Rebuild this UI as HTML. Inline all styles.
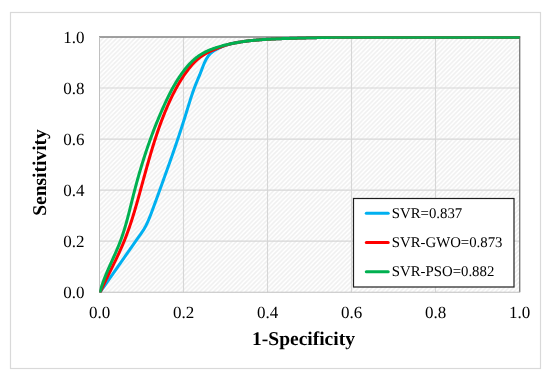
<!DOCTYPE html>
<html><head><meta charset="utf-8"><style>
html,body{margin:0;padding:0;background:#fff;}
svg{display:block;filter:blur(0.3px);}
text{font-family:"Liberation Serif","Times New Roman",serif;fill:#000;text-rendering:geometricPrecision;}
</style></head><body>
<svg width="550" height="376" viewBox="0 0 550 376">
<defs>
<pattern id="hatch" patternUnits="userSpaceOnUse" width="4.55" height="4.55" patternTransform="translate(0.3 0)">
<path d="M-1.1375 1.1375 L1.1375 -1.1375 M0 4.55 L4.55 0 M3.4125 5.6875 L5.6875 3.4125" stroke="#efefef" stroke-width="1.5"/>
</pattern>
<clipPath id="pc"><rect x="99.3" y="36.3" width="420.5" height="256.1"/></clipPath>
</defs>
<rect x="0" y="0" width="550" height="376" fill="#fff"/>
<rect x="10.5" y="12.5" width="530" height="356" fill="#fff" stroke="#d9d9d9" stroke-width="1.2"/>
<rect x="99.5" y="37" width="420" height="255.2" fill="url(#hatch)"/>
<g stroke="#d6d6d6" stroke-width="1.1"><line x1="183.50" y1="37" x2="183.50" y2="292.2" /><line x1="267.50" y1="37" x2="267.50" y2="292.2" /><line x1="351.50" y1="37" x2="351.50" y2="292.2" /><line x1="435.50" y1="37" x2="435.50" y2="292.2" /><line x1="99.5" y1="241.16" x2="519.5" y2="241.16" /><line x1="99.5" y1="190.12" x2="519.5" y2="190.12" /><line x1="99.5" y1="139.08" x2="519.5" y2="139.08" /><line x1="99.5" y1="88.04" x2="519.5" y2="88.04" /></g>
<g stroke="#808080" stroke-width="1.4"><line x1="99" y1="37" x2="520.2" y2="37"/><line x1="519.7" y1="36.3" x2="519.7" y2="292.2"/></g>
<g stroke="#c0c0c0" stroke-width="1.05"><line x1="99.5" y1="37" x2="99.5" y2="292.2"/><line x1="99" y1="292.2" x2="520" y2="292.2"/></g>
<g fill="none" stroke-width="3" stroke-linejoin="round" stroke-linecap="round" clip-path="url(#pc)">
<path d="M100.00 292.30 L100.41 291.71 L100.83 291.12 L101.24 290.52 L101.65 289.93 L102.07 289.34 L102.48 288.74 L102.89 288.15 L103.31 287.56 L103.72 286.97 L104.13 286.37 L104.55 285.78 L104.96 285.19 L105.37 284.60 L105.79 284.00 L106.20 283.41 L106.61 282.82 L107.03 282.23 L107.44 281.63 L107.85 281.04 L108.27 280.45 L108.68 279.86 L109.10 279.26 L109.51 278.67 L109.92 278.08 L110.34 277.49 L110.75 276.90 L111.16 276.30 L111.58 275.71 L111.99 275.12 L112.41 274.53 L112.82 273.93 L113.23 273.34 L113.65 272.75 L114.06 272.16 L114.47 271.56 L114.89 270.97 L115.30 270.38 L115.72 269.79 L116.13 269.19 L116.54 268.60 L116.96 268.01 L117.37 267.42 L117.78 266.83 L118.20 266.23 L118.61 265.64 L119.03 265.05 L119.44 264.46 L119.85 263.86 L120.27 263.27 L120.68 262.68 L121.09 262.09 L121.51 261.49 L121.92 260.90 L122.33 260.31 L122.75 259.72 L123.16 259.12 L123.57 258.53 L123.99 257.94 L124.40 257.35 L124.81 256.75 L125.23 256.16 L125.64 255.57 L126.05 254.98 L126.47 254.38 L126.88 253.79 L127.29 253.20 L127.71 252.61 L128.12 252.01 L128.53 251.42 L128.95 250.83 L129.36 250.23 L129.77 249.64 L130.18 249.05 L130.60 248.46 L131.01 247.86 L131.42 247.27 L131.84 246.68 L132.25 246.08 L132.66 245.49 L133.07 244.90 L133.49 244.31 L133.90 243.71 L134.31 243.12 L134.73 242.53 L135.14 241.94 L135.56 241.34 L135.97 240.75 L136.38 240.16 L136.80 239.57 L137.22 238.98 L137.63 238.39 L138.05 237.80 L138.47 237.21 L138.88 236.62 L139.30 236.03 L139.72 235.44 L140.14 234.85 L140.56 234.26 L140.97 233.67 L141.39 233.07 L141.80 232.48 L142.20 231.88 L142.60 231.28 L143.00 230.68 L143.39 230.07 L143.77 229.46 L144.15 228.85 L144.51 228.23 L144.87 227.61 L145.22 226.98 L145.56 226.34 L145.89 225.71 L146.22 225.07 L146.54 224.42 L146.85 223.77 L147.16 223.12 L147.46 222.47 L147.76 221.81 L148.05 221.15 L148.34 220.49 L148.62 219.82 L148.90 219.16 L149.17 218.49 L149.45 217.82 L149.72 217.15 L149.98 216.47 L150.25 215.80 L150.51 215.13 L150.77 214.45 L151.03 213.77 L151.29 213.10 L151.55 212.42 L151.80 211.74 L152.05 211.06 L152.31 210.39 L152.56 209.71 L152.82 209.03 L153.07 208.35 L153.32 207.67 L153.57 207.00 L153.82 206.32 L154.07 205.64 L154.32 204.96 L154.57 204.29 L154.82 203.61 L155.07 202.93 L155.32 202.25 L155.57 201.58 L155.82 200.90 L156.07 200.22 L156.32 199.54 L156.56 198.87 L156.81 198.19 L157.06 197.51 L157.30 196.83 L157.55 196.16 L157.80 195.48 L158.04 194.80 L158.29 194.12 L158.54 193.45 L158.78 192.77 L159.03 192.09 L159.27 191.41 L159.52 190.74 L159.76 190.06 L160.01 189.38 L160.25 188.70 L160.50 188.02 L160.74 187.35 L160.99 186.67 L161.23 185.99 L161.48 185.31 L161.72 184.63 L161.97 183.95 L162.21 183.28 L162.46 182.60 L162.70 181.92 L162.95 181.24 L163.19 180.56 L163.44 179.88 L163.68 179.20 L163.93 178.52 L164.17 177.84 L164.42 177.16 L164.66 176.48 L164.91 175.80 L165.15 175.12 L165.40 174.44 L165.64 173.76 L165.89 173.08 L166.13 172.40 L166.38 171.72 L166.62 171.04 L166.87 170.36 L167.11 169.68 L167.36 169.00 L167.60 168.32 L167.84 167.64 L168.09 166.96 L168.33 166.28 L168.57 165.60 L168.82 164.92 L169.06 164.24 L169.30 163.56 L169.55 162.88 L169.79 162.20 L170.03 161.52 L170.27 160.84 L170.51 160.16 L170.75 159.48 L170.99 158.79 L171.23 158.11 L171.47 157.43 L171.71 156.75 L171.95 156.07 L172.19 155.39 L172.43 154.71 L172.67 154.03 L172.90 153.35 L173.14 152.67 L173.38 151.98 L173.61 151.30 L173.85 150.62 L174.09 149.94 L174.32 149.26 L174.56 148.58 L174.79 147.90 L175.03 147.21 L175.26 146.53 L175.49 145.85 L175.73 145.17 L175.96 144.49 L176.19 143.80 L176.42 143.12 L176.66 142.44 L176.89 141.76 L177.12 141.07 L177.35 140.39 L177.58 139.71 L177.81 139.02 L178.04 138.34 L178.27 137.66 L178.50 136.97 L178.73 136.29 L178.95 135.61 L179.18 134.92 L179.41 134.24 L179.63 133.55 L179.86 132.87 L180.09 132.18 L180.31 131.50 L180.54 130.81 L180.76 130.13 L180.99 129.44 L181.21 128.76 L181.43 128.07 L181.65 127.39 L181.88 126.70 L182.10 126.01 L182.32 125.33 L182.54 124.64 L182.76 123.95 L182.98 123.27 L183.20 122.58 L183.42 121.89 L183.64 121.20 L183.86 120.52 L184.08 119.83 L184.29 119.14 L184.51 118.45 L184.73 117.76 L184.94 117.07 L185.16 116.38 L185.37 115.69 L185.59 115.00 L185.80 114.31 L186.01 113.62 L186.23 112.93 L186.44 112.24 L186.65 111.55 L186.86 110.86 L187.08 110.17 L187.29 109.47 L187.50 108.78 L187.71 108.09 L187.93 107.40 L188.14 106.71 L188.35 106.02 L188.56 105.33 L188.78 104.64 L188.99 103.95 L189.21 103.26 L189.42 102.57 L189.64 101.88 L189.86 101.19 L190.08 100.50 L190.30 99.81 L190.52 99.12 L190.74 98.44 L190.96 97.75 L191.19 97.06 L191.41 96.38 L191.64 95.70 L191.87 95.01 L192.10 94.33 L192.33 93.65 L192.56 92.97 L192.80 92.29 L193.04 91.61 L193.28 90.93 L193.52 90.25 L193.76 89.58 L194.01 88.90 L194.26 88.23 L194.51 87.56 L194.77 86.89 L195.02 86.22 L195.28 85.55 L195.54 84.88 L195.81 84.22 L196.08 83.55 L196.35 82.89 L196.62 82.23 L196.89 81.57 L197.17 80.91 L197.45 80.25 L197.72 79.58 L198.00 78.92 L198.28 78.26 L198.56 77.60 L198.84 76.94 L199.12 76.27 L199.39 75.60 L199.67 74.94 L199.94 74.26 L200.21 73.59 L200.48 72.91 L200.74 72.24 L201.01 71.55 L201.27 70.87 L201.52 70.18 L201.78 69.50 L202.04 68.81 L202.30 68.12 L202.56 67.43 L202.83 66.75 L203.09 66.06 L203.36 65.38 L203.64 64.70 L203.92 64.03 L204.21 63.36 L204.50 62.69 L204.81 62.03 L205.12 61.38 L205.44 60.73 L205.77 60.09 L206.12 59.46 L206.47 58.84 L206.84 58.22 L207.22 57.62 L207.61 57.03 L208.02 56.44 L208.45 55.87 L208.89 55.32 L209.34 54.77 L209.81 54.24 L210.30 53.73 L210.81 53.23 L211.33 52.75 L211.87 52.29 L212.42 51.84 L213.00 51.42 L213.59 51.01 L214.20 50.63 L214.82 50.27 L215.46 49.92 L216.11 49.58 L216.76 49.25 L217.42 48.92 L218.08 48.59 L218.73 48.27 L219.40 47.95 L220.06 47.63 L220.72 47.32 L221.39 47.02 L222.06 46.73 L222.73 46.45 L223.40 46.18 L224.08 45.91 L224.75 45.66 L225.43 45.41 L226.11 45.18 L226.79 44.96 L227.47 44.74 L228.15 44.54 L228.84 44.34 L229.53 44.16 L230.21 43.98 L230.90 43.81 L231.60 43.64 L232.29 43.49 L232.98 43.34 L233.68 43.19 L234.37 43.05 L235.07 42.92 L235.77 42.79 L236.47 42.66 L237.17 42.54 L237.88 42.42 L238.43 42.32 L239.39 42.17 L240.34 42.01 L241.30 41.87 L242.26 41.72 L243.23 41.58 L244.19 41.45 L245.15 41.32 L246.12 41.19 L247.08 41.07 L248.05 40.95 L249.01 40.84 L249.98 40.73 L250.95 40.62 L251.92 40.52 L252.89 40.42 L253.86 40.32 L254.83 40.23 L255.80 40.14 L256.77 40.05 L257.74 39.97 L258.72 39.89 L259.69 39.81 L260.66 39.74 L261.64 39.67 L262.61 39.60 L263.59 39.53 L264.56 39.47 L265.54 39.41 L266.51 39.35 L267.49 39.29 L268.47 39.23 L269.45 39.18 L270.42 39.13 L271.40 39.08 L272.38 39.03 L273.35 38.98 L274.33 38.94 L275.31 38.89 L276.29 38.85 L277.27 38.81 L278.24 38.77 L279.22 38.73 L280.20 38.69 L281.18 38.66 L282.16 38.62 L283.14 38.59 L284.11 38.55 L285.09 38.52 L286.07 38.48 L287.05 38.45 L288.02 38.42 L289.00 38.38 L289.98 38.35 L290.95 38.32 L291.93 38.29 L292.91 38.26 L293.88 38.23 L294.86 38.20 L295.84 38.17 L296.81 38.14 L297.79 38.11 L298.76 38.08 L299.74 38.05 L300.72 38.02 L301.69 38.00 L302.67 37.97 L303.64 37.94 L304.62 37.92 L305.59 37.89 L306.57 37.87 L307.54 37.84 L308.52 37.82 L309.49 37.79 L310.46 37.77 L311.44 37.75 L312.41 37.72 L313.39 37.70 L314.36 37.68 L315.33 37.66 L316.31 37.64 L317.28 37.62 L318.26 37.60 L319.23 37.58 L320.20 37.56 L321.18 37.54 L322.15 37.52 L323.12 37.50 L324.09 37.48 L325.07 37.46 L326.04 37.44 L327.01 37.43 L327.99 37.41 L328.96 37.39 L329.93 37.38 L330.90 37.36 L331.87 37.35 L332.85 37.33 L333.82 37.31 L334.79 37.30 L335.76 37.29 L336.73 37.27 L337.71 37.26 L338.68 37.24 L339.65 37.23 L340.62 37.22 L341.59 37.21 L342.56 37.19 L343.54 37.18 L344.51 37.17 L345.48 37.16 L346.45 37.15 L347.42 37.15 L348.39 37.15 L349.36 37.15 L350.33 37.15 L351.30 37.15 L352.27 37.15 L353.25 37.15 L354.22 37.15 L355.19 37.15 L356.16 37.15 L357.13 37.15 L358.10 37.15 L359.07 37.15 L360.04 37.15 L361.01 37.15 L361.98 37.15 L362.95 37.15 L363.92 37.15 L364.89 37.15 L365.86 37.15 L366.83 37.15 L367.80 37.15 L368.77 37.15 L369.74 37.15 L370.71 37.15 L371.68 37.15 L372.65 37.15 L373.62 37.15 L374.59 37.15 L375.56 37.15 L376.53 37.15 L377.50 37.15 L378.47 37.15 L379.44 37.15 L380.41 37.15 L381.38 37.15 L382.35 37.15 L383.32 37.15 L384.29 37.15 L385.26 37.15 L386.23 37.15 L387.20 37.15 L388.17 37.15 L389.14 37.15 L390.10 37.15 L391.07 37.15 L392.04 37.15 L393.01 37.15 L393.98 37.15 L394.95 37.15 L395.92 37.15 L396.89 37.15 L397.86 37.15 L398.83 37.15 L399.80 37.15 L400.77 37.15 L401.74 37.15 L402.71 37.15 L403.68 37.15 L404.65 37.15 L405.62 37.15 L406.59 37.15 L407.56 37.15 L408.53 37.15 L409.50 37.15 L410.47 37.15 L411.44 37.15 L412.41 37.15 L413.38 37.15 L414.35 37.15 L415.32 37.15 L416.29 37.15 L417.26 37.15 L418.23 37.15 L419.20 37.15 L420.17 37.15 L421.14 37.15 L422.11 37.15 L423.08 37.15 L424.05 37.15 L425.02 37.15 L425.99 37.15 L426.96 37.15 L427.93 37.15 L428.90 37.15 L429.87 37.15 L430.84 37.15 L431.81 37.15 L432.78 37.15 L433.75 37.15 L434.72 37.15 L435.69 37.15 L436.66 37.15 L437.63 37.15 L438.60 37.15 L439.58 37.15 L440.55 37.15 L441.52 37.15 L442.49 37.15 L443.46 37.15 L444.43 37.15 L445.40 37.15 L446.37 37.15 L447.34 37.15 L448.32 37.15 L449.29 37.15 L450.26 37.15 L451.23 37.15 L452.20 37.15 L453.18 37.15 L454.15 37.15 L455.12 37.15 L456.09 37.15 L457.06 37.15 L458.04 37.15 L459.01 37.15 L459.98 37.15 L460.95 37.15 L461.93 37.15 L462.90 37.15 L463.87 37.15 L464.84 37.15 L465.82 37.15 L466.79 37.15 L467.76 37.15 L468.74 37.15 L469.71 37.15 L470.68 37.15 L471.66 37.15 L472.63 37.15 L473.61 37.15 L474.58 37.15 L475.55 37.15 L476.53 37.15 L477.50 37.15 L478.48 37.15 L479.45 37.15 L480.43 37.15 L481.40 37.15 L482.38 37.15 L483.35 37.15 L484.33 37.15 L485.30 37.15 L486.28 37.15 L487.25 37.15 L488.23 37.15 L489.20 37.15 L490.18 37.15 L491.15 37.15 L492.13 37.15 L493.11 37.15 L494.08 37.15 L495.06 37.15 L496.04 37.15 L497.01 37.15 L497.99 37.15 L498.97 37.15 L499.94 37.15 L500.92 37.15 L501.90 37.15 L502.88 37.15 L503.85 37.15 L504.83 37.15 L505.81 37.15 L506.79 37.15 L507.77 37.15 L508.74 37.15 L509.72 37.15 L510.70 37.15 L511.68 37.15 L512.66 37.15 L513.64 37.15 L514.62 37.15 L515.60 37.15 L516.58 37.15 L517.56 37.15 L518.54 37.15 L519.52 37.15" stroke="#00b0f0"/>
<path d="M100.16 292.37 L100.55 291.48 L100.95 290.60 L101.34 289.72 L101.75 288.84 L102.15 287.97 L102.55 287.09 L102.96 286.21 L103.37 285.34 L103.78 284.46 L104.20 283.59 L104.61 282.71 L105.03 281.84 L105.45 280.97 L105.87 280.09 L106.29 279.22 L106.71 278.35 L107.14 277.48 L107.56 276.60 L107.99 275.73 L108.42 274.86 L108.84 273.99 L109.27 273.12 L109.70 272.25 L110.13 271.38 L110.56 270.50 L110.98 269.63 L111.41 268.76 L111.84 267.89 L112.27 267.02 L112.70 266.15 L113.12 265.27 L113.55 264.40 L113.98 263.53 L114.40 262.65 L114.82 261.78 L115.25 260.91 L115.67 260.03 L116.09 259.16 L116.51 258.28 L116.92 257.40 L117.34 256.53 L117.75 255.65 L118.17 254.77 L118.58 253.89 L118.98 253.01 L119.39 252.13 L119.79 251.24 L120.19 250.36 L120.59 249.48 L120.98 248.59 L121.38 247.70 L121.77 246.82 L122.15 245.93 L122.54 245.04 L122.91 244.15 L123.29 243.25 L123.66 242.36 L124.03 241.46 L124.40 240.57 L124.76 239.67 L125.12 238.77 L125.47 237.87 L125.82 236.97 L126.17 236.06 L126.51 235.16 L126.86 234.25 L127.19 233.34 L127.53 232.44 L127.86 231.53 L128.19 230.61 L128.51 229.70 L128.83 228.79 L129.15 227.88 L129.47 226.96 L129.78 226.05 L130.10 225.13 L130.40 224.21 L130.71 223.29 L131.01 222.37 L131.31 221.45 L131.61 220.53 L131.91 219.61 L132.20 218.68 L132.50 217.76 L132.79 216.84 L133.07 215.91 L133.36 214.98 L133.64 214.06 L133.93 213.13 L134.21 212.20 L134.49 211.27 L134.76 210.34 L135.04 209.42 L135.31 208.49 L135.59 207.55 L135.86 206.62 L136.13 205.69 L136.40 204.76 L136.66 203.83 L136.93 202.90 L137.20 201.96 L137.46 201.03 L137.72 200.10 L137.99 199.16 L138.25 198.23 L138.51 197.29 L138.77 196.36 L139.03 195.43 L139.29 194.49 L139.55 193.56 L139.81 192.62 L140.06 191.69 L140.32 190.75 L140.58 189.82 L140.84 188.88 L141.09 187.95 L141.35 187.01 L141.61 186.08 L141.86 185.14 L142.12 184.21 L142.37 183.27 L142.63 182.34 L142.89 181.40 L143.14 180.47 L143.40 179.53 L143.65 178.60 L143.91 177.67 L144.17 176.73 L144.42 175.80 L144.68 174.86 L144.94 173.93 L145.20 173.00 L145.45 172.06 L145.71 171.13 L145.97 170.20 L146.23 169.26 L146.49 168.33 L146.75 167.40 L147.01 166.46 L147.28 165.53 L147.54 164.60 L147.80 163.67 L148.07 162.74 L148.33 161.81 L148.60 160.88 L148.86 159.95 L149.13 159.02 L149.40 158.09 L149.67 157.16 L149.94 156.23 L150.21 155.30 L150.48 154.37 L150.76 153.44 L151.03 152.52 L151.31 151.59 L151.59 150.66 L151.87 149.74 L152.15 148.81 L152.43 147.89 L152.71 146.96 L152.99 146.04 L153.28 145.11 L153.57 144.19 L153.86 143.27 L154.15 142.34 L154.44 141.42 L154.73 140.50 L155.03 139.58 L155.33 138.66 L155.63 137.74 L155.93 136.82 L156.23 135.91 L156.54 134.99 L156.84 134.07 L157.15 133.15 L157.46 132.24 L157.78 131.32 L158.09 130.41 L158.41 129.50 L158.73 128.58 L159.05 127.67 L159.37 126.76 L159.70 125.85 L160.03 124.94 L160.36 124.03 L160.69 123.12 L161.03 122.21 L161.37 121.31 L161.71 120.40 L162.05 119.50 L162.40 118.59 L162.74 117.69 L163.10 116.79 L163.45 115.88 L163.81 114.98 L164.17 114.08 L164.53 113.18 L164.89 112.29 L165.26 111.39 L165.63 110.49 L166.01 109.60 L166.38 108.70 L166.76 107.81 L167.15 106.91 L167.53 106.02 L167.92 105.13 L168.32 104.24 L168.71 103.35 L169.11 102.47 L169.51 101.58 L169.92 100.70 L170.33 99.81 L170.74 98.93 L171.16 98.05 L171.58 97.17 L172.00 96.30 L172.43 95.42 L172.87 94.55 L173.30 93.68 L173.74 92.81 L174.19 91.94 L174.64 91.08 L175.09 90.22 L175.55 89.36 L176.01 88.50 L176.48 87.65 L176.95 86.80 L177.42 85.95 L177.90 85.10 L178.39 84.26 L178.88 83.42 L179.37 82.59 L179.87 81.75 L180.38 80.92 L180.89 80.10 L181.40 79.28 L181.92 78.46 L182.45 77.64 L182.98 76.83 L183.52 76.03 L184.06 75.22 L184.61 74.43 L185.16 73.63 L185.72 72.84 L186.28 72.06 L186.86 71.27 L187.43 70.50 L188.02 69.73 L188.61 68.96 L189.20 68.20 L189.81 67.45 L190.42 66.71 L191.04 65.98 L191.67 65.25 L192.31 64.53 L192.96 63.82 L193.61 63.13 L194.28 62.44 L194.95 61.76 L195.64 61.10 L196.34 60.45 L197.04 59.81 L197.76 59.18 L198.49 58.57 L199.24 57.97 L199.99 57.39 L200.76 56.82 L201.53 56.27 L202.32 55.73 L203.13 55.21 L203.94 54.70 L204.76 54.21 L205.59 53.72 L206.43 53.25 L207.28 52.80 L208.14 52.35 L209.00 51.92 L209.88 51.50 L210.76 51.09 L211.64 50.70 L212.53 50.31 L213.43 49.93 L214.33 49.56 L215.23 49.19 L216.14 48.82 L217.05 48.45 L217.97 48.09 L218.88 47.72 L219.80 47.37 L220.72 47.01 L221.64 46.67 L222.56 46.34 L223.49 46.01 L224.41 45.70 L225.34 45.39 L226.27 45.10 L227.20 44.82 L228.13 44.55 L229.07 44.29 L230.00 44.05 L230.94 43.81 L231.88 43.59 L232.82 43.38 L233.76 43.18 L234.70 42.99 L235.64 42.81 L236.51 42.65 L237.47 42.48 L238.43 42.32 L239.39 42.17 L240.34 42.01 L241.30 41.87 L242.26 41.72 L243.23 41.58 L244.19 41.45 L245.15 41.32 L246.12 41.19 L247.08 41.07 L248.05 40.95 L249.01 40.84 L249.98 40.73 L250.95 40.62 L251.92 40.52 L252.89 40.42 L253.86 40.32 L254.83 40.23 L255.80 40.14 L256.77 40.05 L257.74 39.97 L258.72 39.89 L259.69 39.81 L260.66 39.74 L261.64 39.67 L262.61 39.60 L263.59 39.53 L264.56 39.47 L265.54 39.41 L266.51 39.35 L267.49 39.29 L268.47 39.23 L269.45 39.18 L270.42 39.13 L271.40 39.08 L272.38 39.03 L273.35 38.98 L274.33 38.94 L275.31 38.89 L276.29 38.85 L277.27 38.81 L278.24 38.77 L279.22 38.73 L280.20 38.69 L281.18 38.66 L282.16 38.62 L283.14 38.59 L284.11 38.55 L285.09 38.52 L286.07 38.48 L287.05 38.45 L288.02 38.42 L289.00 38.38 L289.98 38.35 L290.95 38.32 L291.93 38.29 L292.91 38.26 L293.88 38.23 L294.86 38.20 L295.84 38.17 L296.81 38.14 L297.79 38.11 L298.76 38.08 L299.74 38.05 L300.72 38.02 L301.69 38.00 L302.67 37.97 L303.64 37.94 L304.62 37.92 L305.59 37.89 L306.57 37.87 L307.54 37.84 L308.52 37.82 L309.49 37.79 L310.46 37.77 L311.44 37.75 L312.41 37.72 L313.39 37.70 L314.36 37.68 L315.33 37.66 L316.31 37.64 L317.28 37.62 L318.26 37.60 L319.23 37.58 L320.20 37.56 L321.18 37.54 L322.15 37.52 L323.12 37.50 L324.09 37.48 L325.07 37.46 L326.04 37.44 L327.01 37.43 L327.99 37.41 L328.96 37.39 L329.93 37.38 L330.90 37.36 L331.87 37.35 L332.85 37.33 L333.82 37.31 L334.79 37.30 L335.76 37.29 L336.73 37.27 L337.71 37.26 L338.68 37.24 L339.65 37.23 L340.62 37.22 L341.59 37.21 L342.56 37.19 L343.54 37.18 L344.51 37.17 L345.48 37.16 L346.45 37.15 L347.42 37.15 L348.39 37.15 L349.36 37.15 L350.33 37.15 L351.30 37.15 L352.27 37.15 L353.25 37.15 L354.22 37.15 L355.19 37.15 L356.16 37.15 L357.13 37.15 L358.10 37.15 L359.07 37.15 L360.04 37.15 L361.01 37.15 L361.98 37.15 L362.95 37.15 L363.92 37.15 L364.89 37.15 L365.86 37.15 L366.83 37.15 L367.80 37.15 L368.77 37.15 L369.74 37.15 L370.71 37.15 L371.68 37.15 L372.65 37.15 L373.62 37.15 L374.59 37.15 L375.56 37.15 L376.53 37.15 L377.50 37.15 L378.47 37.15 L379.44 37.15 L380.41 37.15 L381.38 37.15 L382.35 37.15 L383.32 37.15 L384.29 37.15 L385.26 37.15 L386.23 37.15 L387.20 37.15 L388.17 37.15 L389.14 37.15 L390.10 37.15 L391.07 37.15 L392.04 37.15 L393.01 37.15 L393.98 37.15 L394.95 37.15 L395.92 37.15 L396.89 37.15 L397.86 37.15 L398.83 37.15 L399.80 37.15 L400.77 37.15 L401.74 37.15 L402.71 37.15 L403.68 37.15 L404.65 37.15 L405.62 37.15 L406.59 37.15 L407.56 37.15 L408.53 37.15 L409.50 37.15 L410.47 37.15 L411.44 37.15 L412.41 37.15 L413.38 37.15 L414.35 37.15 L415.32 37.15 L416.29 37.15 L417.26 37.15 L418.23 37.15 L419.20 37.15 L420.17 37.15 L421.14 37.15 L422.11 37.15 L423.08 37.15 L424.05 37.15 L425.02 37.15 L425.99 37.15 L426.96 37.15 L427.93 37.15 L428.90 37.15 L429.87 37.15 L430.84 37.15 L431.81 37.15 L432.78 37.15 L433.75 37.15 L434.72 37.15 L435.69 37.15 L436.66 37.15 L437.63 37.15 L438.60 37.15 L439.58 37.15 L440.55 37.15 L441.52 37.15 L442.49 37.15 L443.46 37.15 L444.43 37.15 L445.40 37.15 L446.37 37.15 L447.34 37.15 L448.32 37.15 L449.29 37.15 L450.26 37.15 L451.23 37.15 L452.20 37.15 L453.18 37.15 L454.15 37.15 L455.12 37.15 L456.09 37.15 L457.06 37.15 L458.04 37.15 L459.01 37.15 L459.98 37.15 L460.95 37.15 L461.93 37.15 L462.90 37.15 L463.87 37.15 L464.84 37.15 L465.82 37.15 L466.79 37.15 L467.76 37.15 L468.74 37.15 L469.71 37.15 L470.68 37.15 L471.66 37.15 L472.63 37.15 L473.61 37.15 L474.58 37.15 L475.55 37.15 L476.53 37.15 L477.50 37.15 L478.48 37.15 L479.45 37.15 L480.43 37.15 L481.40 37.15 L482.38 37.15 L483.35 37.15 L484.33 37.15 L485.30 37.15 L486.28 37.15 L487.25 37.15 L488.23 37.15 L489.20 37.15 L490.18 37.15 L491.15 37.15 L492.13 37.15 L493.11 37.15 L494.08 37.15 L495.06 37.15 L496.04 37.15 L497.01 37.15 L497.99 37.15 L498.97 37.15 L499.94 37.15 L500.92 37.15 L501.90 37.15 L502.88 37.15 L503.85 37.15 L504.83 37.15 L505.81 37.15 L506.79 37.15 L507.77 37.15 L508.74 37.15 L509.72 37.15 L510.70 37.15 L511.68 37.15 L512.66 37.15 L513.64 37.15 L514.62 37.15 L515.60 37.15 L516.58 37.15 L517.56 37.15 L518.54 37.15 L519.52 37.15" stroke="#ff0000"/>
<path d="M99.98 292.29 L100.22 291.35 L100.48 290.40 L100.74 289.46 L101.01 288.53 L101.29 287.60 L101.57 286.67 L101.87 285.74 L102.17 284.81 L102.48 283.89 L102.79 282.97 L103.11 282.05 L103.44 281.14 L103.77 280.23 L104.11 279.32 L104.46 278.41 L104.81 277.50 L105.16 276.60 L105.52 275.69 L105.89 274.79 L106.26 273.89 L106.63 273.00 L107.01 272.10 L107.39 271.20 L107.77 270.31 L108.16 269.42 L108.54 268.52 L108.93 267.63 L109.33 266.74 L109.72 265.85 L110.12 264.96 L110.52 264.07 L110.92 263.19 L111.32 262.30 L111.72 261.41 L112.12 260.52 L112.52 259.63 L112.92 258.75 L113.32 257.86 L113.72 256.97 L114.12 256.08 L114.52 255.19 L114.91 254.30 L115.31 253.41 L115.70 252.52 L116.09 251.63 L116.48 250.74 L116.86 249.85 L117.24 248.95 L117.62 248.06 L118.00 247.16 L118.37 246.26 L118.74 245.36 L119.10 244.46 L119.46 243.56 L119.81 242.65 L120.16 241.75 L120.50 240.84 L120.84 239.93 L121.18 239.01 L121.50 238.10 L121.83 237.18 L122.14 236.27 L122.46 235.35 L122.77 234.43 L123.07 233.50 L123.37 232.58 L123.67 231.65 L123.96 230.73 L124.25 229.80 L124.54 228.87 L124.82 227.94 L125.10 227.01 L125.37 226.07 L125.64 225.14 L125.91 224.20 L126.18 223.27 L126.44 222.33 L126.70 221.39 L126.96 220.45 L127.21 219.51 L127.47 218.57 L127.72 217.63 L127.97 216.68 L128.21 215.74 L128.46 214.80 L128.70 213.85 L128.94 212.91 L129.19 211.96 L129.43 211.02 L129.66 210.07 L129.90 209.12 L130.14 208.18 L130.38 207.23 L130.61 206.28 L130.85 205.34 L131.08 204.39 L131.32 203.44 L131.55 202.50 L131.79 201.55 L132.02 200.60 L132.26 199.66 L132.50 198.71 L132.73 197.77 L132.97 196.82 L133.21 195.88 L133.45 194.93 L133.69 193.99 L133.93 193.04 L134.18 192.10 L134.42 191.16 L134.67 190.22 L134.91 189.28 L135.16 188.33 L135.41 187.39 L135.66 186.45 L135.91 185.52 L136.17 184.58 L136.42 183.64 L136.68 182.70 L136.93 181.76 L137.19 180.83 L137.45 179.89 L137.71 178.96 L137.98 178.02 L138.24 177.09 L138.51 176.15 L138.77 175.22 L139.04 174.29 L139.31 173.35 L139.58 172.42 L139.85 171.49 L140.13 170.56 L140.40 169.63 L140.68 168.70 L140.96 167.77 L141.24 166.84 L141.52 165.91 L141.80 164.99 L142.09 164.06 L142.37 163.13 L142.66 162.21 L142.95 161.28 L143.24 160.36 L143.53 159.43 L143.82 158.51 L144.12 157.58 L144.42 156.66 L144.71 155.74 L145.01 154.82 L145.32 153.90 L145.62 152.98 L145.92 152.06 L146.23 151.14 L146.54 150.22 L146.85 149.30 L147.16 148.38 L147.47 147.47 L147.79 146.55 L148.11 145.63 L148.42 144.72 L148.74 143.80 L149.07 142.89 L149.39 141.97 L149.72 141.06 L150.04 140.15 L150.37 139.24 L150.70 138.32 L151.04 137.41 L151.37 136.50 L151.71 135.59 L152.04 134.68 L152.38 133.77 L152.73 132.87 L153.07 131.96 L153.42 131.05 L153.76 130.14 L154.11 129.24 L154.46 128.33 L154.82 127.43 L155.17 126.52 L155.53 125.62 L155.89 124.72 L156.25 123.81 L156.61 122.91 L156.98 122.01 L157.35 121.11 L157.72 120.21 L158.09 119.31 L158.46 118.41 L158.84 117.51 L159.21 116.61 L159.59 115.72 L159.97 114.82 L160.36 113.92 L160.74 113.03 L161.13 112.13 L161.52 111.24 L161.91 110.34 L162.31 109.45 L162.70 108.56 L163.10 107.67 L163.50 106.77 L163.91 105.88 L164.31 104.99 L164.72 104.10 L165.13 103.21 L165.54 102.33 L165.96 101.44 L166.37 100.55 L166.79 99.67 L167.22 98.78 L167.64 97.90 L168.07 97.02 L168.50 96.14 L168.94 95.26 L169.38 94.39 L169.82 93.51 L170.27 92.64 L170.72 91.77 L171.17 90.90 L171.63 90.04 L172.09 89.17 L172.56 88.31 L173.03 87.46 L173.51 86.60 L173.99 85.75 L174.48 84.90 L174.97 84.06 L175.46 83.21 L175.96 82.38 L176.47 81.54 L176.98 80.71 L177.50 79.88 L178.02 79.06 L178.55 78.24 L179.08 77.42 L179.62 76.61 L180.17 75.80 L180.72 75.00 L181.28 74.20 L181.84 73.41 L182.42 72.62 L183.00 71.83 L183.58 71.05 L184.17 70.28 L184.77 69.51 L185.38 68.75 L185.99 68.00 L186.62 67.25 L187.25 66.51 L187.88 65.78 L188.53 65.06 L189.18 64.34 L189.85 63.64 L190.52 62.94 L191.19 62.26 L191.88 61.58 L192.58 60.92 L193.28 60.27 L194.00 59.63 L194.72 59.00 L195.46 58.38 L196.20 57.78 L196.95 57.19 L197.72 56.62 L198.49 56.05 L199.27 55.51 L200.07 54.98 L200.87 54.46 L201.68 53.96 L202.51 53.47 L203.34 53.00 L204.19 52.55 L205.04 52.11 L205.90 51.68 L206.77 51.27 L207.65 50.87 L208.53 50.48 L209.42 50.10 L210.32 49.73 L211.22 49.38 L212.13 49.04 L213.04 48.70 L213.95 48.38 L214.87 48.06 L215.80 47.75 L216.72 47.45 L217.65 47.16 L218.58 46.88 L219.51 46.60 L220.45 46.33 L221.38 46.07 L222.32 45.81 L223.25 45.56 L224.19 45.31 L225.13 45.07 L226.08 44.84 L227.02 44.61 L227.96 44.39 L228.91 44.17 L229.85 43.97 L230.80 43.76 L231.75 43.56 L232.70 43.37 L233.65 43.18 L234.61 43.00 L235.56 42.82 L236.51 42.65 L237.47 42.48 L238.43 42.32 L239.39 42.17 L240.34 42.01 L241.30 41.87 L242.26 41.72 L243.23 41.58 L244.19 41.45 L245.15 41.32 L246.12 41.19 L247.08 41.07 L248.05 40.95 L249.01 40.84 L249.98 40.73 L250.95 40.62 L251.92 40.52 L252.89 40.42 L253.86 40.32 L254.83 40.23 L255.80 40.14 L256.77 40.05 L257.74 39.97 L258.72 39.89 L259.69 39.81 L260.66 39.74 L261.64 39.67 L262.61 39.60 L263.59 39.53 L264.56 39.47 L265.54 39.41 L266.51 39.35 L267.49 39.29 L268.47 39.23 L269.45 39.18 L270.42 39.13 L271.40 39.08 L272.38 39.03 L273.35 38.98 L274.33 38.94 L275.31 38.89 L276.29 38.85 L277.27 38.81 L278.24 38.77 L279.22 38.73 L280.20 38.69 L281.18 38.66 L282.16 38.62 L283.14 38.59 L284.11 38.55 L285.09 38.52 L286.07 38.48 L287.05 38.45 L288.02 38.42 L289.00 38.38 L289.98 38.35 L290.95 38.32 L291.93 38.29 L292.91 38.26 L293.88 38.23 L294.86 38.20 L295.84 38.17 L296.81 38.14 L297.79 38.11 L298.76 38.08 L299.74 38.05 L300.72 38.02 L301.69 38.00 L302.67 37.97 L303.64 37.94 L304.62 37.92 L305.59 37.89 L306.57 37.87 L307.54 37.84 L308.52 37.82 L309.49 37.79 L310.46 37.77 L311.44 37.75 L312.41 37.72 L313.39 37.70 L314.36 37.68 L315.33 37.66 L316.31 37.64 L317.28 37.62 L318.26 37.60 L319.23 37.58 L320.20 37.56 L321.18 37.54 L322.15 37.52 L323.12 37.50 L324.09 37.48 L325.07 37.46 L326.04 37.44 L327.01 37.43 L327.99 37.41 L328.96 37.39 L329.93 37.38 L330.90 37.36 L331.87 37.35 L332.85 37.33 L333.82 37.31 L334.79 37.30 L335.76 37.29 L336.73 37.27 L337.71 37.26 L338.68 37.24 L339.65 37.23 L340.62 37.22 L341.59 37.21 L342.56 37.19 L343.54 37.18 L344.51 37.17 L345.48 37.16 L346.45 37.15 L347.42 37.15 L348.39 37.15 L349.36 37.15 L350.33 37.15 L351.30 37.15 L352.27 37.15 L353.25 37.15 L354.22 37.15 L355.19 37.15 L356.16 37.15 L357.13 37.15 L358.10 37.15 L359.07 37.15 L360.04 37.15 L361.01 37.15 L361.98 37.15 L362.95 37.15 L363.92 37.15 L364.89 37.15 L365.86 37.15 L366.83 37.15 L367.80 37.15 L368.77 37.15 L369.74 37.15 L370.71 37.15 L371.68 37.15 L372.65 37.15 L373.62 37.15 L374.59 37.15 L375.56 37.15 L376.53 37.15 L377.50 37.15 L378.47 37.15 L379.44 37.15 L380.41 37.15 L381.38 37.15 L382.35 37.15 L383.32 37.15 L384.29 37.15 L385.26 37.15 L386.23 37.15 L387.20 37.15 L388.17 37.15 L389.14 37.15 L390.10 37.15 L391.07 37.15 L392.04 37.15 L393.01 37.15 L393.98 37.15 L394.95 37.15 L395.92 37.15 L396.89 37.15 L397.86 37.15 L398.83 37.15 L399.80 37.15 L400.77 37.15 L401.74 37.15 L402.71 37.15 L403.68 37.15 L404.65 37.15 L405.62 37.15 L406.59 37.15 L407.56 37.15 L408.53 37.15 L409.50 37.15 L410.47 37.15 L411.44 37.15 L412.41 37.15 L413.38 37.15 L414.35 37.15 L415.32 37.15 L416.29 37.15 L417.26 37.15 L418.23 37.15 L419.20 37.15 L420.17 37.15 L421.14 37.15 L422.11 37.15 L423.08 37.15 L424.05 37.15 L425.02 37.15 L425.99 37.15 L426.96 37.15 L427.93 37.15 L428.90 37.15 L429.87 37.15 L430.84 37.15 L431.81 37.15 L432.78 37.15 L433.75 37.15 L434.72 37.15 L435.69 37.15 L436.66 37.15 L437.63 37.15 L438.60 37.15 L439.58 37.15 L440.55 37.15 L441.52 37.15 L442.49 37.15 L443.46 37.15 L444.43 37.15 L445.40 37.15 L446.37 37.15 L447.34 37.15 L448.32 37.15 L449.29 37.15 L450.26 37.15 L451.23 37.15 L452.20 37.15 L453.18 37.15 L454.15 37.15 L455.12 37.15 L456.09 37.15 L457.06 37.15 L458.04 37.15 L459.01 37.15 L459.98 37.15 L460.95 37.15 L461.93 37.15 L462.90 37.15 L463.87 37.15 L464.84 37.15 L465.82 37.15 L466.79 37.15 L467.76 37.15 L468.74 37.15 L469.71 37.15 L470.68 37.15 L471.66 37.15 L472.63 37.15 L473.61 37.15 L474.58 37.15 L475.55 37.15 L476.53 37.15 L477.50 37.15 L478.48 37.15 L479.45 37.15 L480.43 37.15 L481.40 37.15 L482.38 37.15 L483.35 37.15 L484.33 37.15 L485.30 37.15 L486.28 37.15 L487.25 37.15 L488.23 37.15 L489.20 37.15 L490.18 37.15 L491.15 37.15 L492.13 37.15 L493.11 37.15 L494.08 37.15 L495.06 37.15 L496.04 37.15 L497.01 37.15 L497.99 37.15 L498.97 37.15 L499.94 37.15 L500.92 37.15 L501.90 37.15 L502.88 37.15 L503.85 37.15 L504.83 37.15 L505.81 37.15 L506.79 37.15 L507.77 37.15 L508.74 37.15 L509.72 37.15 L510.70 37.15 L511.68 37.15 L512.66 37.15 L513.64 37.15 L514.62 37.15 L515.60 37.15 L516.58 37.15 L517.56 37.15 L518.54 37.15 L519.52 37.15" stroke="#00b050"/>
</g>
<g font-size="17"><text transform="translate(84.5 298.10) scale(1 1.0)" text-anchor="end">0.0</text><text transform="translate(84.5 247.06) scale(1 1.0)" text-anchor="end">0.2</text><text transform="translate(84.5 196.02) scale(1 1.0)" text-anchor="end">0.4</text><text transform="translate(84.5 144.98) scale(1 1.0)" text-anchor="end">0.6</text><text transform="translate(84.5 93.94) scale(1 1.0)" text-anchor="end">0.8</text><text transform="translate(84.5 42.90) scale(1 1.0)" text-anchor="end">1.0</text><text transform="translate(99.50 317.6) scale(1 1.0)" text-anchor="middle">0.0</text><text transform="translate(183.50 317.6) scale(1 1.0)" text-anchor="middle">0.2</text><text transform="translate(267.50 317.6) scale(1 1.0)" text-anchor="middle">0.4</text><text transform="translate(351.50 317.6) scale(1 1.0)" text-anchor="middle">0.6</text><text transform="translate(435.50 317.6) scale(1 1.0)" text-anchor="middle">0.8</text><text transform="translate(519.50 317.6) scale(1 1.0)" text-anchor="middle">1.0</text></g>
<text x="303.5" y="344.8" font-size="19.5" font-weight="bold" text-anchor="middle">1-Specificity</text>
<text transform="translate(46 172.5) rotate(-90)" font-size="19.5" font-weight="bold" text-anchor="middle">Sensitivity</text>
<rect x="353.5" y="198.5" width="160.5" height="88.5" fill="#fff" stroke="#1e1e1e" stroke-width="1.2"/>
<g stroke-width="3" stroke-linecap="round"><line x1="366.3" y1="213.2" x2="388.2" y2="213.2" stroke="#00b0f0"/>
<line x1="366.3" y1="242.4" x2="388.2" y2="242.4" stroke="#ff0000"/>
<line x1="366.3" y1="271.8" x2="388.2" y2="271.8" stroke="#00b050"/></g>
<g font-size="14.8"><text x="391.8" y="217.7">SVR=0.837</text><text x="391.8" y="246.9">SVR-GWO=0.873</text><text x="391.8" y="276.3">SVR-PSO=0.882</text></g>
</svg>
</body></html>
